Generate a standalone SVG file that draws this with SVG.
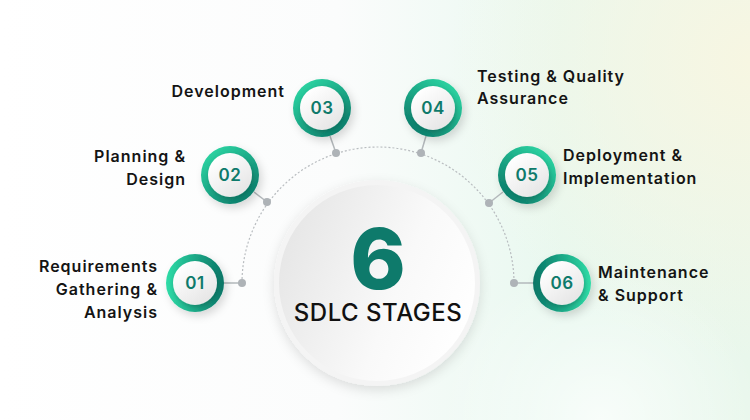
<svg xmlns="http://www.w3.org/2000/svg" width="750" height="420" viewBox="0 0 750 420">
<defs>
<linearGradient id="bgMint" x1="0" y1="0" x2="1" y2="0">
<stop offset="0" stop-color="#ffffff"/>
<stop offset="0.45" stop-color="#fbfcfc"/>
<stop offset="0.75" stop-color="#e8f8ef"/>
<stop offset="1" stop-color="#e9f7ec"/>
</linearGradient>
<radialGradient id="bgYellow" cx="750" cy="60" r="300" gradientUnits="userSpaceOnUse">
<stop offset="0" stop-color="#f7f6e2" stop-opacity="1"/>
<stop offset="1" stop-color="#f7f6e2" stop-opacity="0"/>
</radialGradient>
<radialGradient id="bgWhiteBottom" cx="600" cy="420" r="160" gradientUnits="userSpaceOnUse">
<stop offset="0" stop-color="#ffffff" stop-opacity="0.7"/>
<stop offset="1" stop-color="#ffffff" stop-opacity="0"/>
</radialGradient>
<linearGradient id="gL" x1="0" y1="0.5" x2="1" y2="0.5">
<stop offset="0" stop-color="#2fdca7"/><stop offset="1" stop-color="#097566"/>
</linearGradient>
<linearGradient id="gTL" x1="0.1" y1="0" x2="0.9" y2="1">
<stop offset="0" stop-color="#2fdca7"/><stop offset="1" stop-color="#097566"/>
</linearGradient>
<linearGradient id="gTR" x1="0.9" y1="0" x2="0.1" y2="1">
<stop offset="0" stop-color="#2fdca7"/><stop offset="1" stop-color="#097566"/>
</linearGradient>
<linearGradient id="gR" x1="1" y1="0.5" x2="0" y2="0.5">
<stop offset="0" stop-color="#2fdca7"/><stop offset="1" stop-color="#097566"/>
</linearGradient>
<linearGradient id="inner" x1="0.2" y1="0.1" x2="0.8" y2="0.9">
<stop offset="0" stop-color="#ffffff"/><stop offset="1" stop-color="#e6e6e6"/>
</linearGradient>
<linearGradient id="bigFill" x1="0" y1="0.3" x2="1" y2="0.7">
<stop offset="0" stop-color="#e6e6e6"/><stop offset="0.6" stop-color="#f9f9f9"/><stop offset="1" stop-color="#ffffff"/>
</linearGradient>
<filter id="shadow" x="-50%" y="-50%" width="200%" height="200%">
<feDropShadow dx="3" dy="4" stdDeviation="4" flood-color="#000" flood-opacity="0.15"/>
</filter>
<filter id="innerShadow" x="-50%" y="-50%" width="200%" height="200%">
<feDropShadow dx="1" dy="2" stdDeviation="2" flood-color="#000" flood-opacity="0.2"/>
</filter>
<filter id="bigShadow" x="-30%" y="-30%" width="160%" height="160%">
<feDropShadow dx="0" dy="4" stdDeviation="6" flood-color="#000" flood-opacity="0.12"/>
</filter>
</defs>
<style>
.lbl { font-family: Inter, "Liberation Sans", sans-serif; font-weight: 600; font-size: 16px; letter-spacing: 1px; fill: #141414; }
.num { font-family: Inter, "Liberation Sans", sans-serif; font-weight: 600; font-size: 17px; letter-spacing: 0.5px; fill: #0e7a6b; text-anchor: middle; }
.conn { stroke: #b3b8bb; stroke-width: 1.5; fill: none; }
.dot { fill: #aeb3b7; }
.arc { stroke: #b9bdc0; stroke-width: 1.2; fill: none; stroke-dasharray: 2 2; }
.inner { fill: url(#inner); filter: url(#innerShadow); }
</style>

<rect width="750" height="420" fill="url(#bgMint)"/>
<rect width="750" height="420" fill="url(#bgYellow)"/>
<rect width="750" height="420" fill="url(#bgWhiteBottom)"/>

<g id="connectors">
<path class="arc" d="M242 283 A136 136 0 0 1 514 283"/>
<line class="conn" x1="224" y1="283" x2="242" y2="283"/>
<line class="conn" x1="254" y1="192" x2="267" y2="202"/>
<line class="conn" x1="330" y1="136" x2="336" y2="153"/>
<line class="conn" x1="426" y1="136" x2="421" y2="153"/>
<line class="conn" x1="503" y1="192" x2="489" y2="203"/>
<line class="conn" x1="533" y1="283" x2="514" y2="283"/>
<circle class="dot" cx="242" cy="283" r="4"/>
<circle class="dot" cx="267" cy="202" r="4"/>
<circle class="dot" cx="336" cy="153" r="4"/>
<circle class="dot" cx="421" cy="153" r="4"/>
<circle class="dot" cx="489" cy="203" r="4"/>
<circle class="dot" cx="514" cy="283" r="4"/>
</g>

<g id="center">
<circle cx="377" cy="283" r="103" fill="#f4f4f4" filter="url(#bigShadow)"/>
<circle cx="377" cy="283" r="98" fill="url(#bigFill)"/>
<text x="378" y="289" text-anchor="middle" font-family="Inter, 'Liberation Sans', sans-serif" font-weight="800" font-size="84" fill="#0e7a6b">6</text>
<text x="378" y="321" text-anchor="middle" font-family="Inter, 'Liberation Sans', sans-serif" font-weight="500" font-size="24" letter-spacing="0.5" fill="#111111">SDLC STAGES</text>
</g>

<g id="node01">
<circle cx="195" cy="283" r="29" fill="url(#gL)" filter="url(#shadow)"/>
<circle class="inner" cx="195" cy="283" r="22"/>
<text class="num" x="195" y="289">01</text>
<text class="lbl" text-anchor="end" x="158" y="272">Requirements</text>
<text class="lbl" text-anchor="end" x="158" y="295">Gathering &amp;</text>
<text class="lbl" text-anchor="end" x="158" y="318">Analysis</text>
</g>

<g id="node02">
<circle cx="230" cy="175" r="29" fill="url(#gTL)" filter="url(#shadow)"/>
<circle class="inner" cx="230" cy="175" r="22"/>
<text class="num" x="230" y="181">02</text>
<text class="lbl" text-anchor="end" x="186" y="162">Planning &amp;</text>
<text class="lbl" text-anchor="end" x="186" y="185">Design</text>
</g>

<g id="node03">
<circle cx="322" cy="108" r="29" fill="url(#gTL)" filter="url(#shadow)"/>
<circle class="inner" cx="322" cy="108" r="22"/>
<text class="num" x="322" y="114">03</text>
<text class="lbl" text-anchor="end" x="285" y="97">Development</text>
</g>

<g id="node04">
<circle cx="433" cy="108" r="29" fill="url(#gTR)" filter="url(#shadow)"/>
<circle class="inner" cx="433" cy="108" r="22"/>
<text class="num" x="433" y="114">04</text>
<text class="lbl" x="477" y="82">Testing &amp; Quality</text>
<text class="lbl" x="477" y="104">Assurance</text>
</g>

<g id="node05">
<circle cx="527" cy="175" r="29" fill="url(#gTR)" filter="url(#shadow)"/>
<circle class="inner" cx="527" cy="175" r="22"/>
<text class="num" x="527" y="181">05</text>
<text class="lbl" x="563" y="161">Deployment &amp;</text>
<text class="lbl" x="563" y="184">Implementation</text>
</g>

<g id="node06">
<circle cx="562" cy="283" r="29" fill="url(#gR)" filter="url(#shadow)"/>
<circle class="inner" cx="562" cy="283" r="22"/>
<text class="num" x="562" y="289">06</text>
<text class="lbl" x="598" y="278">Maintenance</text>
<text class="lbl" x="598" y="301">&amp; Support</text>
</g>
</svg>
